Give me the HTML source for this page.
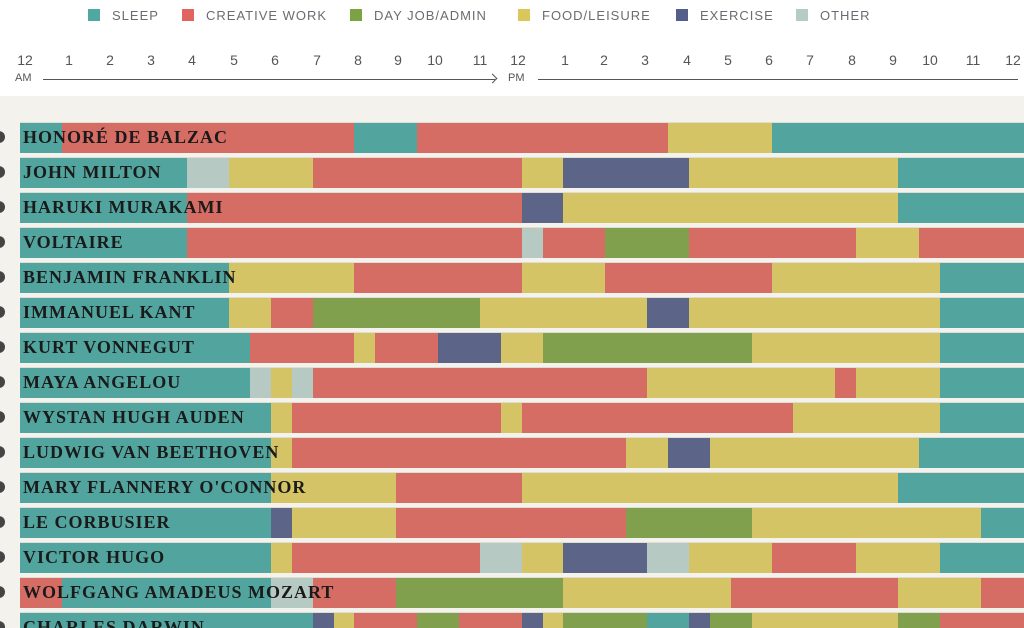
<!DOCTYPE html>
<html><head><meta charset="utf-8"><style>
html,body{margin:0;width:1024px;height:628px;overflow:hidden}
body{background:#fff;font-family:"Liberation Sans",sans-serif;position:relative}
.bg{position:absolute;left:0;top:96px;width:1024px;height:532px;background:#f4f2ec}
.leg{position:absolute;top:8px;font-size:13px;color:#6f6a72;letter-spacing:1px;}
.leg i{display:inline-block;width:12px;height:12px;vertical-align:-1px;margin-right:12px}
.tk{position:absolute;top:52px;font-size:14px;color:#555;transform:translateX(-50%)}
.ap{position:absolute;top:72px;font-size:11px;color:#555}
.ln{position:absolute;top:79px;height:1px;background:#555}
.row{position:absolute;left:20px;width:1010px;height:30px;border-top:1px solid #e0ddd5}
.seg{position:absolute;top:0;height:30px}
.nm{position:absolute;left:3px;top:4px;font-family:"Liberation Serif",serif;font-weight:bold;font-size:18px;letter-spacing:1px;color:#1a1a1a;white-space:nowrap}
.dot{position:absolute;left:-7px;width:12px;height:12px;border-radius:50%;background:#444}
</style></head><body>
<div class="bg"></div>
<div class="leg" style="left:88px"><i style="background:#4fa8a2"></i>SLEEP</div>
<div class="leg" style="left:182px"><i style="background:#e0645f"></i>CREATIVE WORK</div>
<div class="leg" style="left:350px"><i style="background:#7ba243"></i>DAY JOB/ADMIN</div>
<div class="leg" style="left:518px"><i style="background:#d9c75c"></i>FOOD/LEISURE</div>
<div class="leg" style="left:676px"><i style="background:#555e8a"></i>EXERCISE</div>
<div class="leg" style="left:796px"><i style="background:#b5cbc6"></i>OTHER</div>
<div id="ax"></div>
<div class="ap" style="left:15px">AM</div>
<div class="ap" style="left:508px">PM</div>
<div class="ln" style="left:43px;width:452px"></div><div style="position:absolute;left:489px;top:75px;width:6px;height:6px;border-top:1px solid #555;border-right:1px solid #555;transform:rotate(45deg)"></div>
<div class="ln" style="left:538px;width:480px"></div>
<div id="rows"></div>
<script>
var tx=[25,69,110,151,192,234,275,317,358,398,435,480,518,565,604,645,687,728,769,810,852,893,930,973,1013];
var lb=[12,1,2,3,4,5,6,7,8,9,10,11,12,1,2,3,4,5,6,7,8,9,10,11,12];
var h='';for(var i=0;i<tx.length;i++)h+='<div class="tk" style="left:'+tx[i]+'px">'+lb[i]+'</div>';
document.getElementById('ax').innerHTML=h;
var C={s:'#52a59f',c:'#d66d65',d:'#80a04e',f:'#d5c466',e:'#5c6488',o:'#b7c9c3'};
var R=[
["HONORÉ DE BALZAC","s1c8s9.5c15.5f18s24"],
["JOHN MILTON","s4o5f7c12f13e16f21s24"],
["HARUKI MURAKAMI","s4c12e13f21s24"],
["VOLTAIRE","s4c12o12.5c14d16c20f21.5c24"],
["BENJAMIN FRANKLIN","s5f8c12f14c18f22s24"],
["IMMANUEL KANT","s5f6c7d11f15e16f22s24"],
["KURT VONNEGUT","s5.5c8f8.5c10e11.5f12.5d17.5f22s24"],
["MAYA ANGELOU","s5.5o6f6.5o7c15f19.5c20f22s24"],
["WYSTAN HUGH AUDEN","s6f6.5c11.5f12c18.5f22s24"],
["LUDWIG VAN BEETHOVEN","s6f6.5c14.5f15.5e16.5f21.5s24"],
["MARY FLANNERY O'CONNOR","s6f9c12f21s24"],
["LE CORBUSIER","s6e6.5f9c14.5d17.5f23s24"],
["VICTOR HUGO","s6f6.5c11o12f13e15o16f18c20f22s24"],
["WOLFGANG AMADEUS MOZART","c1s6o7c9d13f17c21f23c24"],
["CHARLES DARWIN","s7e7.5f8c9.5d10.5c12e12.5f13d15s16e16.5d17.5f21d22c24"]];
var out='';
R.forEach(function(r,i){
 var y=122+35*i, m=r[1].match(/[a-z][\d.]+/g), st=0, sg='';
 m.forEach(function(t){var en=parseFloat(t.slice(1));var x0=41.8*st,x1=41.8*en;sg+='<div class="seg" style="left:'+x0+'px;width:'+(x1-x0+0.5)+'px;background:'+C[t[0]]+'"></div>';st=en;});
 out+='<div class="dot" style="top:'+(y+9)+'px"></div><div class="row" style="top:'+y+'px">'+sg+'<div class="nm">'+r[0]+'</div></div>';
});
document.getElementById('rows').innerHTML=out;
</script>
</body></html>
